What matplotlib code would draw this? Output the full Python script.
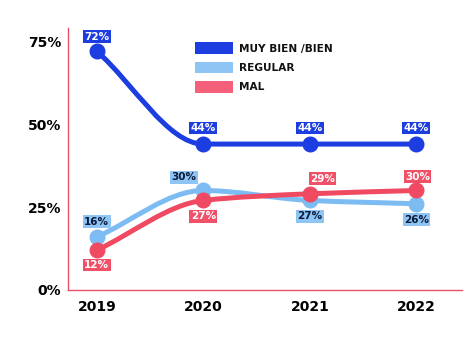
import numpy as np
import matplotlib
matplotlib.use("Agg")
import matplotlib.pyplot as plt
from matplotlib.path import Path
from matplotlib.patches import PathPatch, Patch

years = [2019, 2020, 2021, 2022]
muy_bien = [72, 44, 44, 44]
regular = [16, 30, 27, 26]
mal = [12, 27, 29, 30]
series_names = ["MUY BIEN /BIEN", "REGULAR", "MAL"]
yticks = [0, 25, 50, 75]

c_blue = "#1c3de0"
c_light = "#7dbbf3"
c_red = "#f04a63"
spine_c = "#e8506a"


def monotone_path(x, y):
    x = np.asarray(x, float)
    y = np.asarray(y, float)
    h = np.diff(x)
    d = np.diff(y) / h
    n = len(x)
    m = np.zeros(n)
    m[0] = d[0]
    m[-1] = d[-1]
    for i in range(1, n - 1):
        if d[i - 1] * d[i] <= 0:
            m[i] = 0
        else:
            m[i] = 2 / (1 / d[i - 1] + 1 / d[i])
    verts = [(x[0], y[0])]
    codes = [Path.MOVETO]
    for i in range(n - 1):
        verts += [(x[i] + h[i] / 3, y[i] + m[i] * h[i] / 3),
                  (x[i + 1] - h[i] / 3, y[i + 1] - m[i + 1] * h[i] / 3),
                  (x[i + 1], y[i + 1])]
        codes += [Path.CURVE4] * 3
    return Path(verts, codes)


fig = plt.figure(figsize=(4.74, 3.57), dpi=100)
ax = fig.add_axes([0.1435, 0.1877, 0.975 - 0.1435, 0.9216 - 0.1877])

for vals, col in [(regular, c_light), (mal, c_red), (muy_bien, c_blue)]:
    ax.add_patch(PathPatch(monotone_path(years, vals), facecolor="none",
                           edgecolor=col, lw=3.6, capstyle="round", zorder=3))
    ax.plot(years, vals, "o", color=col, ms=10.5, zorder=4)

ax.set_xlim(2018.73, 2022.43)
ax.set_ylim(0, 79)
ax.set_xticks(years)
ax.set_xticklabels([str(y) for y in years], fontsize=10, fontweight="bold")
ax.set_yticks(yticks)
ax.set_yticklabels([f"{v}%" for v in yticks], fontsize=10, fontweight="bold")
ax.tick_params(length=0)
ax.tick_params(axis="y", pad=5)
ax.tick_params(axis="x", pad=7)
for s in ["top", "right"]:
    ax.spines[s].set_visible(False)
for s in ["left", "bottom"]:
    ax.spines[s].set_color(spine_c)
    ax.spines[s].set_linewidth(1.0)


def label(x, y, txt, bg, fg, dx, dy):
    ax.annotate(txt, (x, y), xytext=(dx, dy), textcoords="offset points",
                ha="center", va="center", fontsize=7.5, fontweight="bold",
                color=fg, zorder=6,
                bbox=dict(boxstyle="square,pad=0.12", fc=bg, ec="none"))


mb_off = [(0, 10.5), (0, 11.5), (0, 11.5), (0, 11.5)]
rg_off = [(0, 11), (-14, 9.5), (0, -11.5), (0, -11.5)]
ml_off = [(0, -10.5), (0, -11.5), (9, 11), (1, 10)]
for i, yr in enumerate(years):
    label(yr, muy_bien[i], f"{muy_bien[i]}%", c_blue, "white", *mb_off[i])
    label(yr, regular[i], f"{regular[i]}%", "#8ec5f5", "#0b1a3a", *rg_off[i])
    label(yr, mal[i], f"{mal[i]}%", "#f05068", "white", *ml_off[i])

handles = [Patch(facecolor=c, edgecolor="none") for c in [c_blue, "#8ec5f5", "#f4607a"]]
leg = ax.legend(handles, series_names, loc="upper left",
                bbox_to_anchor=(0.322, 0.945), frameon=False,
                prop=dict(size=7.6, weight="bold"), handlelength=3.6,
                handleheight=1.35, handletextpad=0.55, labelspacing=0.7,
                borderaxespad=0, borderpad=0)
for t in leg.get_texts():
    t.set_color("#111111")

fig.savefig("out.png", dpi=100)
